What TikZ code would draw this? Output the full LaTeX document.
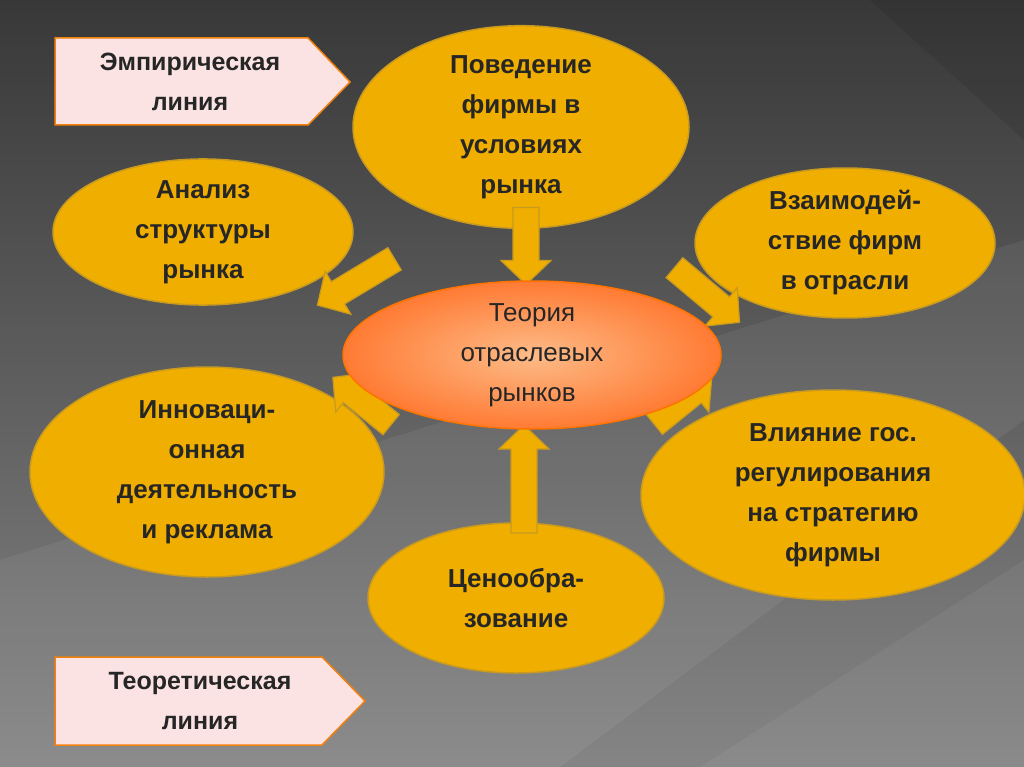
\documentclass[tikz,border=0pt]{standalone}
\usepackage{fontspec}
\setmainfont{Liberation Sans}
\usetikzlibrary{shapes.geometric}
\definecolor{gold}{HTML}{EFAE00}
\definecolor{goldb}{HTML}{C89A20}
\definecolor{pinkb}{HTML}{FBE3E3}
\tikzset{
  oval/.style={ellipse,draw=goldb,line width=1.5pt,fill=gold,inner sep=0pt,align=center,
    font=\fontsize{26}{40}\selectfont\bfseries,text=black!85},
  barrowstyle/.style={draw=goldb,line width=1.2pt,fill=gold,line join=miter},
  lbox/.style={draw=orange!80!brown,line width=1.5pt,fill=pinkb},
  ltext/.style={align=center,font=\fontsize{25}{40}\selectfont\bfseries,text=black!85}
}
\newcommand\blockarr[4]{%
  \begin{scope}[shift={(#1,#2)},rotate={-#3}]
  \pgfmathsetmacro\hl{#4/2}\pgfmathsetmacro\hb{#4/2-24}
  \draw[barrowstyle] (-\hl,-13) -- (\hb,-13) -- (\hb,-25) -- (\hl,0) -- (\hb,25) -- (\hb,13) -- (-\hl,13) -- cycle;
  \end{scope}}
\begin{document}
\begin{tikzpicture}[x=1pt,y=-1pt]
\useasboundingbox (0,0) rectangle (1024,767);
\shade[top color=black!78,bottom color=black!48] (0,0) rectangle (1024,767);
\fill[white,opacity=0.06] (0,767) -- (0,560) -- (1024,240) -- (1024,420) -- (560,767) -- cycle;
\fill[white,opacity=0.05] (700,767) -- (1024,560) -- (1024,767) -- cycle;
\fill[black,opacity=0.08] (870,0) -- (1024,0) -- (1024,140) -- cycle;
% ellipses
\node[oval,minimum width=336pt,minimum height=158pt] (top) at (521,127) {Поведение\\фирмы в\\условиях\\рынка};
\node[oval,minimum width=300pt,minimum height=146pt] (lt) at (203,232) {Анализ\\структуры\\рынка};
\node[oval,minimum width=300pt,minimum height=150pt] (rt) at (845,243) {Взаимодей-\\ствие фирм\\в отрасли};
\node[oval,minimum width=354pt,minimum height=210pt] (lb) at (207,472) {Инноваци-\\онная\\деятельность\\и реклама};
\node[oval,minimum width=384pt,minimum height=210pt] (rb) at (833,495) {Влияние гос.\\регулирования\\на стратегию\\фирмы};
\node[oval,minimum width=296pt,minimum height=150pt] (bt) at (516,598) {Ценообра-\\зование};
% arrows
\blockarr{526}{246}{90}{77}
\blockarr{524}{479}{-90}{108}
\blockarr{356}{282}{149}{90}
\blockarr{707}{295}{40}{85}
\blockarr{362}{401}{-141}{75}
\blockarr{683}{401}{-39}{74}
\node[ellipse,draw=orange!90!red,line width=1.5pt,inner sep=0pt,minimum width=378pt,minimum height=148pt,
  inner color=orange!40!pinkb,outer color=orange!70!red!80,align=center,
  font=\fontsize{26}{40}\selectfont,text=black!85] (c) at (532,355) {Теория\\отраслевых\\рынков};
% label boxes
\draw[lbox] (55,38) -- (308,38) -- (350,82) -- (308,125) -- (55,125) -- cycle;
\node[ltext] (l1) at (190,82) {Эмпирическая\\линия};
\draw[lbox] (55,657) -- (322,657) -- (365,701) -- (322,745) -- (55,745) -- cycle;
\node[ltext] (l2) at (200,701) {Теоретическая\\линия};
\end{tikzpicture}
\end{document}
